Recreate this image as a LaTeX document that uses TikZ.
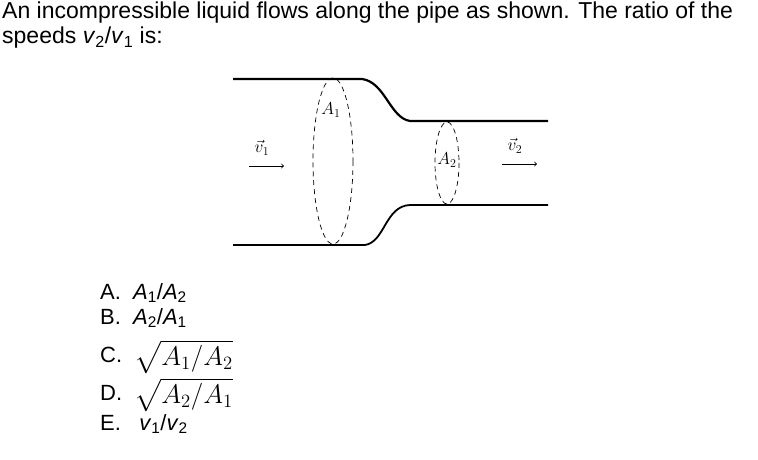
\documentclass[tikz,border=0pt]{standalone}
\usepackage{fontspec}
\setmainfont{Liberation Sans}
\usepackage{amsmath}
\usepackage{graphicx}
\begin{document}
\begin{tikzpicture}[x=1pt,y=-1pt,
  pipe/.style={line width=2.2pt},
  sec/.style={line width=0.7pt,dash pattern=on 5pt off 4pt},
  txt/.style={anchor=west,inner sep=0pt,font=\fontsize{23}{25}\selectfont},
  ans/.style={anchor=west,inner sep=0pt,font=\fontsize{22}{24}\selectfont},
  lab/.style={inner sep=0pt,font=\fontsize{18}{19}\selectfont},
  arr/.style={->,line width=0.9pt}]
\useasboundingbox (0,0) rectangle (758,460);
\node[txt] (t1) at (2,13) {An incompressible liquid flows along the pipe as shown. The ratio of the};
\node[txt] (t2) at (2,38) {speeds \textit{v}\textsubscript{2}/\textit{v}\textsubscript{1} is:};
% pipe
\draw[pipe] (233,79) -- (362,79) .. controls (385,82) and (390,118) .. (410,121) -- (548,121);
\draw[line width=1.8pt] (233,245) -- (365,245) .. controls (385,242) and (385,206) .. (410,205) -- (548,205);
\draw[sec] (333,161) ellipse (20 and 83);
\draw[sec] (447,163) ellipse (12 and 41);
\node[lab] (a1) at (331,110) {$A_1$};
\node[lab] (a2) at (447,160) {$A_2$};
\coordinate (v1s) at (249,166); \coordinate (v1e) at (284,166);
\draw[arr] (v1s) -- (v1e);
\node[lab] (v1) at (262,148) {$\vec v_1$};
\coordinate (v2s) at (502,164); \coordinate (v2e) at (537,164);
\draw[arr] (v2s) -- (v2e);
\node[lab] (v2) at (515,146) {$\vec v_2$};
% answers
\node[ans] (oa) at (100,293) {A.\ \ \textit{A}\textsubscript{1}/\textit{A}\textsubscript{2}};
\node[ans] (ob) at (100,318) {B.\ \ \textit{A}\textsubscript{2}/\textit{A}\textsubscript{1}};
\node[ans] (oc) at (100,357) {C.\ \ \raisebox{-3pt}{\scalebox{1.3}{$\sqrt{A_1/A_2}$}}};
\node[ans] (od) at (100,395) {D.\ \ \raisebox{-3pt}{\scalebox{1.3}{$\sqrt{A_2/A_1}$}}};
\node[ans] (oe) at (100,424) {E.\ \ \ \textit{v}\textsubscript{1}/\textit{v}\textsubscript{2}};
\end{tikzpicture}
\end{document}
